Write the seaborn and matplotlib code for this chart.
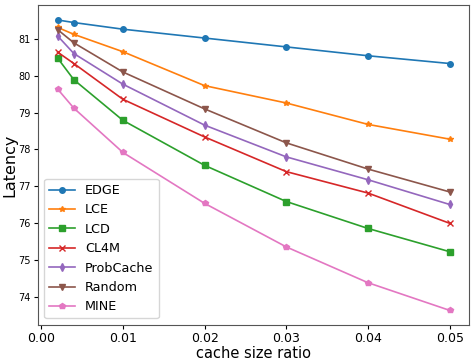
import matplotlib as mpl
mpl.use("Agg")
import matplotlib.pyplot as plt
import pandas as pd
import seaborn as sns

ratios = [0.002, 0.004, 0.01, 0.02, 0.03, 0.04, 0.05]
methods = ["EDGE", "LCE", "LCD", "CL4M", "ProbCache", "Random", "MINE"]
markers = ["o", "*", "s", "x", "d", "v", "p"]

edge = [81.51, 81.44, 81.26, 81.02, 80.78, 80.54, 80.33]
lce = [81.31, 81.12, 80.65, 79.73, 79.26, 78.68, 78.28]
lcd = [80.48, 79.89, 78.79, 77.57, 76.59, 75.86, 75.23]
cl4m = [80.64, 80.33, 79.36, 78.34, 77.40, 76.82, 76.00]
probcache = [81.08, 80.60, 79.77, 78.66, 77.80, 77.18, 76.51]
random_ = [81.25, 80.89, 80.10, 79.10, 78.18, 77.47, 76.85]
mine = [79.64, 79.12, 77.92, 76.54, 75.36, 74.39, 73.64]

values = [edge, lce, lcd, cl4m, probcache, random_, mine]
df = pd.concat(
    [pd.DataFrame({"ratio": ratios, "latency": v, "method": m}) for m, v in zip(methods, values)],
    ignore_index=True,
)

fig, ax = plt.subplots(figsize=(4.74, 3.63), dpi=100)
palette = sns.color_palette("tab10", len(methods))

for i, m in enumerate(methods):
    sub = df[df["method"] == m]
    sns.lineplot(
        data=sub, x="ratio", y="latency", ax=ax,
        color=palette[i], marker=markers[i], markersize=4,
        markeredgewidth=1, markeredgecolor=palette[i],
        linewidth=1.2, label=m,
    )

ax.set_xlabel("cache size ratio", fontsize=10.5, labelpad=1)
ax.set_ylabel("Latency", fontsize=11.5, labelpad=1)
ax.tick_params(axis="x", labelsize=9, length=3, pad=2)
ax.tick_params(axis="y", labelsize=7, length=3, pad=2)
for s in ax.spines.values():
    s.set_color("#555555")
ax.legend(loc="lower left", fontsize=9.2, handlelength=2.0)

plt.subplots_adjust(left=0.08, right=0.99, top=0.985, bottom=0.105)
plt.savefig("out.png", dpi=100)
